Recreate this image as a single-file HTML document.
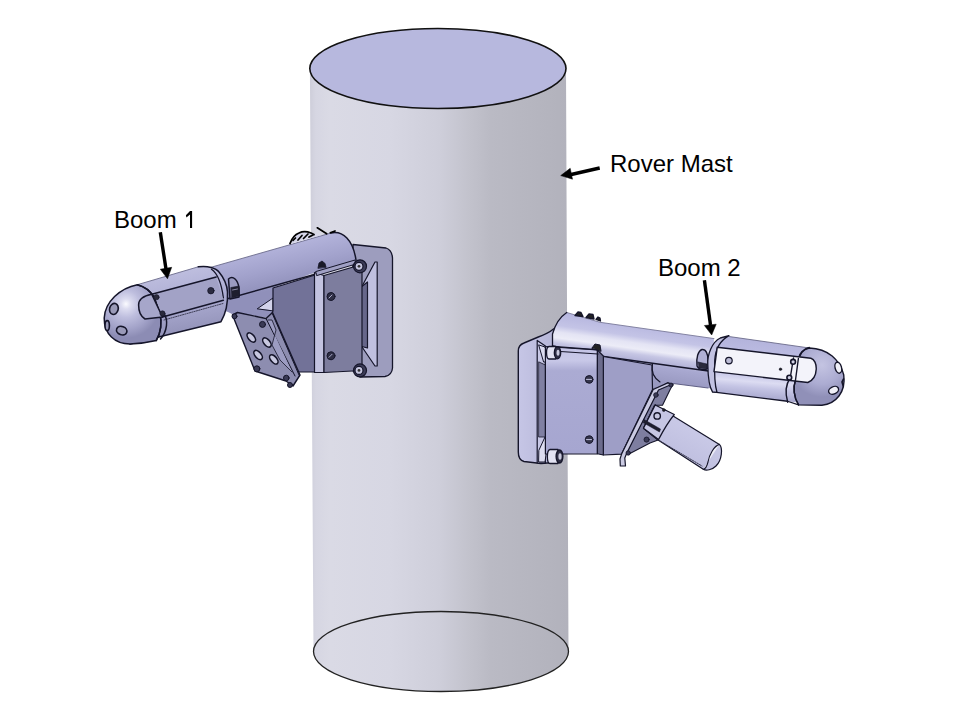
<!DOCTYPE html>
<html><head><meta charset="utf-8">
<style>
html,body{margin:0;padding:0;background:#fff;width:960px;height:720px;overflow:hidden}
svg{position:absolute;left:0;top:0}
.t{position:absolute;font-family:"Liberation Sans",sans-serif;font-size:24px;line-height:28px;color:#000;white-space:nowrap}
</style></head>
<body>
<svg width="960" height="720" viewBox="0 0 960 720">
<defs>
<linearGradient id="cyl" x1="310" y1="0" x2="568" y2="0" gradientUnits="userSpaceOnUse">
<stop offset="0" stop-color="rgb(206,206,218)"/>
<stop offset="0.023" stop-color="rgb(214,214,226)"/>
<stop offset="0.078" stop-color="rgb(218,218,229)"/>
<stop offset="0.31" stop-color="rgb(215,215,227)"/>
<stop offset="0.504" stop-color="rgb(206,206,218)"/>
<stop offset="0.62" stop-color="rgb(194,194,204)"/>
<stop offset="0.70" stop-color="rgb(186,186,196)"/>
<stop offset="1" stop-color="rgb(178,178,188)"/>
</linearGradient>

<radialGradient id="dome1" cx="126" cy="304" r="34" gradientUnits="userSpaceOnUse">
<stop offset="0" stop-color="#fbfbff"/><stop offset="0.15" stop-color="#dcdcf0"/><stop offset="0.4" stop-color="#bebede"/><stop offset="0.75" stop-color="#a2a2c8"/><stop offset="1" stop-color="#8c8cb4"/>
</radialGradient>
<linearGradient id="sleeve1" x1="170" y1="268" x2="182" y2="338" gradientUnits="userSpaceOnUse">
<stop offset="0" stop-color="#c0c0e0"/><stop offset="0.45" stop-color="#aeaed4"/><stop offset="1" stop-color="#9090b6"/>
</linearGradient>
<linearGradient id="tube1" x1="265" y1="250" x2="274" y2="290" gradientUnits="userSpaceOnUse">
<stop offset="0" stop-color="#b2b2da"/><stop offset="0.5" stop-color="#a2a2cc"/><stop offset="1" stop-color="#9090ba"/>
</linearGradient>

<linearGradient id="bp2" x1="518" y1="0" x2="560" y2="0" gradientUnits="userSpaceOnUse">
<stop offset="0" stop-color="#c6c6e6"/><stop offset="1" stop-color="#b4b4d6"/>
</linearGradient>
<linearGradient id="tube2" x1="640" y1="315.5" x2="631" y2="379.5" gradientUnits="userSpaceOnUse">
<stop offset="0" stop-color="#b2b2dc"/><stop offset="0.15" stop-color="#b8b8e0"/><stop offset="0.33" stop-color="#c4c4e6"/><stop offset="0.43" stop-color="#e4e4f4"/><stop offset="0.52" stop-color="#ececf7"/><stop offset="0.6" stop-color="#c6c6e4"/><stop offset="0.75" stop-color="#a8a8d0"/><stop offset="1" stop-color="#9898c0"/>
</linearGradient>
<linearGradient id="sleeve2" x1="765" y1="341" x2="760" y2="402" gradientUnits="userSpaceOnUse">
<stop offset="0" stop-color="#b4b4dc"/><stop offset="0.25" stop-color="#bcbce2"/><stop offset="0.55" stop-color="#c4c4e6"/><stop offset="0.68" stop-color="#dcdcf2"/><stop offset="0.78" stop-color="#c4c4e4"/><stop offset="1" stop-color="#a0a0c8"/>
</linearGradient>
<radialGradient id="dome2" cx="822" cy="365" r="32" gradientUnits="userSpaceOnUse">
<stop offset="0" stop-color="#c4c4e2"/><stop offset="0.6" stop-color="#acacd2"/><stop offset="1" stop-color="#9090b8"/>
</radialGradient>
<linearGradient id="scyl2" x1="0" y1="0" x2="-1" y2="1.5">
<stop offset="0" stop-color="#c8c8e6"/><stop offset="1" stop-color="#a0a0c8"/>
</linearGradient>
<linearGradient id="fp2" x1="0" y1="350" x2="0" y2="454" gradientUnits="userSpaceOnUse">
<stop offset="0" stop-color="#c4c4e6"/><stop offset="0.1" stop-color="#c8c8e8"/><stop offset="0.2" stop-color="#ababd3"/><stop offset="1" stop-color="#a6a6d0"/>
</linearGradient>
</defs>
<!-- mast body -->
<path d="M309.9,68.5 L566,68.5 L568.5,651.5 A127.5,40 0 0 1 313.5,651.5 Z" fill="url(#cyl)"/>
<ellipse cx="441" cy="651.5" rx="127.5" ry="40" fill="none" stroke="#222" stroke-width="1.3"/>
<ellipse cx="437.9" cy="68.5" rx="128.1" ry="40" fill="#b7b8de" stroke="#111" stroke-width="1.6"/>


<!-- ============ BOOM 1 ============ -->
<g stroke="#15152a" stroke-linejoin="round" stroke-linecap="round">
<!-- back plate -->
<path d="M353,244.5 L386,248 Q392,250 392.5,258 L392.5,368 Q392,375 385,376.5 L360,377 L352,370 Z" fill="#9d9dbe" stroke-width="1.3"/>
<path d="M360,290 L375,262 L377.2,262 L377.2,366 L375,366 L360,344 Z" fill="#c0c0e0" stroke-width="1.2"/>
<path d="M360,288 L367.5,282 L367.5,348 L360,346 Z" fill="#66668a" stroke-width="1.2"/>
<!-- tube -->
<path d="M205,269 L331,233 C343,230.5 353,240 356,260 L316,272 L273,288 L273,311 L268,318 L237.5,313 L232,314 L228,312 L210,306 Z" fill="url(#tube1)" stroke="none"/>
<path d="M205,269 L331,233" fill="none" stroke="#6a6a8a" stroke-width="0.9"/>
<path d="M331,233 C343,230.5 353,240 356,260" fill="none" stroke-width="1.5"/>
<!-- gear on top of tube -->
<path d="M290,244 C292,238 295,234.5 299,233 C302,231.5 306,231 311,233 L316,234 L322,235 Z" fill="#d6d6ea" stroke="none"/>
<path d="M290,243.5 C292,238 295,234.5 299,233 C302,231.5 306,231 311,233 L314,234.5" fill="none" stroke="#000" stroke-width="1.8"/>
<path d="M293,240.5 L295.5,238 M298,240 L302,235.5 M303.5,238.5 L308,234 M309,237 L313,235 M317.3,227.8 L326.7,233.8 M330.3,232.8 L335,231" fill="none" stroke="#000" stroke-width="1.7"/>
<!-- seam line -->
<path d="M205,305 L316,274" stroke-width="1.4" fill="none"/>
<!-- fillet -->
<path d="M257.5,308.6 L273,298 L273,310.5 Z" fill="#d2d2ea" stroke-width="1"/>
<!-- dark body -->
<path d="M273,288 L315,275 L315,372 L297,372 L270,318 L273,311 Z" fill="#727298" stroke-width="1.2"/>
<!-- lower plate -->
<path d="M232.5,315 L237.5,312.5 L266,318.5 L272.5,312.5 L300,375 L293,386 L286,381 L255,371 Z" fill="#8d8db0" stroke-width="1.4"/>
<path d="M266,318.5 L295,376 M272.5,314 L299,375" fill="none" stroke-width="1"/>
<path d="M268,320 L272,320 L276,330 L272,345 L280,360 L292,372" fill="#9c9cc2" stroke-width="0.8"/>
<g fill="#c8c8e0" stroke-width="1.6">
<ellipse cx="251.3" cy="337.5" rx="5.5" ry="3" transform="rotate(50 251.3 337.5)"/>
<ellipse cx="266.9" cy="342.5" rx="5.5" ry="3" transform="rotate(50 266.9 342.5)"/>
<ellipse cx="258.1" cy="355" rx="5.5" ry="3" transform="rotate(50 258.1 355)"/>
<ellipse cx="273.8" cy="359.4" rx="5.5" ry="3" transform="rotate(50 273.8 359.4)"/>
</g>
<g fill="#3a3a55" stroke-width="1">
<circle cx="262.5" cy="324.4" r="3"/><circle cx="256.9" cy="368.8" r="3"/><circle cx="286.3" cy="378" r="2.8"/><circle cx="290" cy="385" r="2.5"/><circle cx="234.5" cy="316.3" r="2.5"/>
</g>
<!-- front plate -->
<path d="M314.5,272.5 L324,275.5 L324,372.5 L314.5,372.5 Z" fill="#c3c3e0" stroke-width="1.2"/>
<path d="M324,275.5 L355,266.5 L362,268 L362,370.5 L324,372.5 Z" fill="#7d7d9e" stroke-width="1.2"/>
<path d="M316,271.5 L355,260 L356,264 L317,275.5 Z" fill="#a0a0c4" stroke-width="1"/>
<path d="M318,268 L319,263 L322,261 L325,263.5 L326,267 Z" fill="#1a1a28" stroke-width="0.8"/>
<g fill="#2e2e44" stroke-width="1"><circle cx="331" cy="296.5" r="4"/><circle cx="331" cy="355.8" r="4"/></g>
<g fill="none" stroke="#a8a8c8" stroke-width="1"><path d="M329,298 L332,295"/><path d="M329,357.3 L332,354.3"/></g>
<!-- bolts -->
<g stroke-width="1.2"><circle cx="360" cy="266.3" r="6.5" fill="#3c3c58"/><circle cx="359" cy="266.3" r="4" fill="#c6c6e0"/><circle cx="359" cy="266.3" r="1.4" fill="#333" stroke="none"/>
<circle cx="360" cy="370.4" r="6.5" fill="#3c3c58"/><circle cx="359" cy="370.4" r="4" fill="#c6c6e0"/><circle cx="359" cy="370.4" r="1.4" fill="#333" stroke="none"/></g>
<!-- sleeve -->
<path d="M137.4,284.7 L198.3,266.8 C208,265.5 216,268 219,272 C224,278 227,285 227.5,292 C228,302 226,313 221,321.7 L130,344 Z" fill="url(#sleeve1)" stroke="none"/>
<path d="M137.4,284.7 L198.3,266.8" fill="none" stroke="#6a6a8a" stroke-width="0.9"/>
<path d="M198.3,266.8 C208,265.5 216,268 219,272 C224,278 227,285 227.5,292 C228,302 226,313 221,321.7 L130,344" fill="none" stroke-width="1.5"/>
<path d="M211.5,269.2 C217,273 221,280 223.4,297.8" fill="none" stroke-width="1.3"/>
<!-- collar bump -->
<path d="M228.5,279 C233,275 238,280 239,288 L239,297 L230,299 Z" fill="#9a9ac0" stroke-width="1.5"/>
<path d="M231,287.5 L239,286 L239.5,296 L231.5,298 Z" fill="#1e1e2e" stroke-width="0.6"/><path d="M232.5,290 L237.5,289" stroke="#8a8aa8" stroke-width="1"/>
<!-- window -->
<path d="M151.7,294.3 L216.2,277 L223.4,300.2 L162.5,317 Z" fill="#a2a2c6" stroke="none"/>
<path d="M151.7,294.3 L216.2,277 M162.5,317 L223.4,300.2" fill="none" stroke-width="1.5"/>
<path d="M164,320 L223,303.5" stroke="#33334a" stroke-width="0.9" stroke-dasharray="1.2,1.2" fill="none"/>
<circle cx="210.9" cy="290.7" r="3.2" fill="#2b2b40" stroke-width="0.8"/>
<!-- dome -->
<path d="M137.4,284.7 C120,288 105,302 104.2,318 C104,334 115,344 130,344 C142,343.5 150,342 156.25,340.5 C161,333 162,322 160,314 L154,297 C151,292 146,287 137.4,284.7 Z" fill="url(#dome1)" stroke-width="1.5"/>
<path d="M137.4,284.7 C146,287 151,292 154,297 L160,314 C162,322 161,333 156.25,340.5" fill="none" stroke-width="1.5"/>
<path d="M164.5,314.5 C168,320 167.5,331 160.5,339" fill="none" stroke-width="1.5"/>
<path d="M151.7,294.3 C143,296 138.6,300 138.6,305 C138.6,312 140,316 145,319 L162.5,317 Z" fill="#a6a6ca" stroke-width="1.5"/>
<g fill="#2a2a3c" stroke-width="0.6"><circle cx="156.5" cy="297.2" r="2.6"/><circle cx="162.5" cy="313.4" r="2.6"/></g>
<g fill="#9a9ab8" stroke-width="1.6">
<ellipse cx="113.9" cy="308.9" rx="4.3" ry="5.6" transform="rotate(15 113.9 308.9)"/>
<ellipse cx="121.7" cy="330.6" rx="5.3" ry="4.2" transform="rotate(20 121.7 330.6)"/>
<ellipse cx="107.2" cy="325.6" rx="2.2" ry="5" />
</g>
</g>


<!-- ============ BOOM 2 ============ -->
<g stroke="#15152a" stroke-linejoin="round" stroke-linecap="round">
<!-- back plate -->
<path d="M524,343 L538.3,337 C545,334.5 550,332 553.5,329 L560,329 L560,462 L541,463.5 L524,461.5 Q518.3,460 518.3,452 L518.3,351 Q518.3,345 524,343 Z" fill="url(#bp2)" stroke-width="1.4"/>
<!-- tube -->
<path d="M566.7,312.5 L600,322.3 L714,338.6 L712,388.5 L708,388 L673,383.5 L652,389 L603,356 L552.5,346 L552.5,334 C555,325 560,317 566.7,312.5 Z" fill="url(#tube2)" stroke="none"/>
<path d="M566.7,312.5 L600,322.3 L714,338.6" fill="none" stroke="#7a7a9a" stroke-width="0.9"/>
<path d="M552.5,346 L552.5,334 C555,325 560,317 566.7,312.5" fill="none" stroke-width="1.3"/>
<path d="M652,389 L673,383.5 L708,388" fill="none" stroke="#55557a" stroke-width="0.9"/>
<path d="M575,315.5 L578,312 L581,312.5 L583,316.5 Z M586,317.5 L589,314 L593,314.5 L594,319 Z M596,319.5 L598,317 L600,318 L600.5,321 Z" fill="#222" stroke-width="1.3"/>
<path d="M552.5,346 L600,356 L708.3,371" fill="none" stroke-width="1.4"/>
<!-- body right -->
<path d="M603.3,356.5 L652,365 L652.5,389.5 L621.6,454.1 L603.3,455 Z" fill="#9e9ec6" stroke-width="1.2"/>
<path d="M652.5,364 C651,372 654,378 660,382" fill="none" stroke-width="1.1"/>
<!-- lower dark area + strut -->
<path d="M658.5,388.5 L667.7,382.9 L673,384.5 L670.4,389 L662.5,405.3 L654.5,405.3 L643.5,428.3 L658.1,440 L650,443 L628,454.5 L626.9,452.8 Z" fill="#7e7ea0" stroke-width="1.1"/>
<path d="M653.2,389.5 L667.7,382.9 L672,384.3 L658.5,390 L626.9,452.8 L624.8,458 L625.5,466 L620.3,466 L620,459 L621.6,454.1 Z" fill="#cacae2" stroke-width="1.2"/>
<g fill="#3a3a55" stroke-width="0.8"><circle cx="655.9" cy="395" r="2.3"/><circle cx="646.6" cy="439.6" r="2.6"/><circle cx="628.2" cy="453" r="2.2"/><circle cx="671" cy="385" r="2"/></g>
<!-- small cylinder -->
<path d="M655.2,405 L719.4,444.4 C723,448 722,460 716,466 C712,470 706,471 703.3,469.2 L658.1,440 L643.5,428.3 Z" fill="url(#scyl2)" stroke-width="1.2"/>
<path d="M655.2,405 L674.3,414.5 C669,421 663,431 658.5,439.6 L643.5,428.3 Z" fill="#c6c6e4" stroke-width="1.2"/>
<path d="M719.4,444.4 C714,446 709,455 708,462 C707,466 706,469 703.3,469.2" fill="#ececf6" stroke-width="1.1"/>
<path d="M660,441 L702,466" fill="none" stroke="#33334a" stroke-width="1" stroke-dasharray="1.5,1.2"/>
<path d="M644,419.5 L660.5,429 L659.5,432 L643,422.5 Z" fill="#1e1e2e" stroke-width="0.5"/>
<circle cx="657.2" cy="415.9" r="3.2" fill="#c6c6e0" stroke-width="1.4"/>
<circle cx="663.8" cy="410" r="1.5" fill="#222" stroke-width="0.5"/>
<!-- front strip -->
<path d="M537.2,340.4 L545.4,346 L545.4,463 L537.2,463 Z" fill="#c8c8e6" stroke-width="1.2"/>
<path d="M539,362 L545.4,365 L545.4,437 L539,437 Z" fill="#8080a2" stroke-width="0.8"/>
<path d="M539,345 L545,347 L550,362 L544,362 Z M539,450 L545,437 L548,440 L545,462 L539,462 Z" fill="#dcdcf0" stroke-width="1"/>
<!-- front plate -->
<path d="M545.4,346.5 L597.4,350 L597.4,453.8 L545.4,454 Z" fill="url(#fp2)" stroke-width="1.2"/>
<path d="M597.4,350 L603.3,356 L603.3,455 L597.4,453.8 Z" fill="#6c6c8c" stroke-width="1.1"/>
<path d="M552.5,346.3 L599.7,349.9 M553,351 L598,354" fill="none" stroke-width="1.2"/>
<path d="M592,348 L595,344 L600,345 L601,351 Z" fill="#222" stroke-width="1"/>
<g fill="#35354c" stroke-width="1"><circle cx="589.1" cy="379.4" r="3.8"/><circle cx="589.1" cy="439.6" r="3.8"/></g>
<g fill="none" stroke="#c0c0dc" stroke-width="1"><path d="M586.5,379.4 L591.5,379.4"/><path d="M586.5,439.6 L591.5,439.6"/></g>
<g stroke-width="1.3">
<path d="M549,346.5 L556,346.5 L556,359 L549,359 C546,359 545.5,347 549,346.5 Z" fill="#e2e2f2"/>
<ellipse cx="557.5" cy="352.8" rx="3.2" ry="6" fill="#2e2e44"/><ellipse cx="558" cy="352.8" rx="1.5" ry="3" fill="#c8c8dc" stroke="none"/>
<path d="M550,449.5 L558,449.5 L558,463.5 L550,463.5 C546.5,463.5 546.5,450 550,449.5 Z" fill="#e2e2f2"/>
<ellipse cx="559.5" cy="456.5" rx="3.4" ry="6.5" fill="#2e2e44"/><ellipse cx="560" cy="456.5" rx="1.6" ry="3.2" fill="#c8c8dc" stroke="none"/>
</g>
<path d="M697,366 C696,358 698,351 702,349.5 C706,349 708,354 708,360 L708,368 C705,371 699,370 697,366 Z" fill="#b0b0d4" stroke-width="1.4"/>
<path d="M698,362 L707,364 L707,369 L699,368 Z" fill="#2a2a3c" stroke-width="0.6"/>
<!-- sleeve -->
<path d="M728.9,336.5 L809.4,348 L821.9,405.2 L787.5,401.25 L712.5,391.9 C707,385 706,365 712,350 C716,342 722,336.5 728.9,336.5 Z" fill="url(#sleeve2)" stroke="none"/>
<path d="M728.9,336.5 L809.4,348" fill="none" stroke="#6a6a8a" stroke-width="0.9"/>
<path d="M712.5,391.9 L787.5,401.25 L798.6,404.9" fill="none" stroke-width="1.3"/>
<path d="M720.3,338 C712,342 707,355 707.8,365 C708,378 710,388 712.5,391.9 L717,392.4 C715,386 714.3,372 714.8,360 C715.5,349 721,340 728.9,335.6 Z" fill="#c2c2e2" stroke-width="1.3"/>
<!-- dome -->
<path d="M809.4,348 C828,348.5 840,360 843.75,375 C846,392 836,404 821.9,405.2 L798.6,404.9 C793.5,397 793,387 795.5,380 L798.4,358.5 C800,352 804,349 809.4,348 Z" fill="url(#dome2)" stroke-width="1.4"/>
<path d="M809.4,347.3 C803,349 799,355 798.4,362" fill="none" stroke-width="1.3"/>
<!-- window -->
<path d="M717.2,347.3 L810.9,358.3 C818,360 819,378 807.8,382.5 L714,371.6 Z" fill="#f3f3fa" stroke-width="1.4"/>
<path d="M793.5,358 L790.2,378 C786,384 785,393 787.7,402.2 M798.4,358.5 L795.5,380 C793,387 793.5,397 798.6,404.9" fill="none" stroke-width="1.4"/>
<g fill="#d0d0e4" stroke-width="1.6"><circle cx="793.1" cy="361.8" r="2.4"/><circle cx="789.3" cy="377.6" r="2.4"/></g>
<circle cx="728.9" cy="360.6" r="3.3" fill="#bcbcd6" stroke-width="1.2"/>
<circle cx="780.5" cy="369.2" r="1.3" fill="#222" stroke-width="0.5"/>
<path d="M843.6,379 L842,382 L843.2,386" fill="none" stroke-width="1.6"/>
<g fill="#f0f0f8" stroke-width="1.4">
<ellipse cx="838.3" cy="367.7" rx="3.2" ry="5.6" transform="rotate(-15 838.3 367.7)"/>
<ellipse cx="833.6" cy="390.3" rx="5.2" ry="3.6" transform="rotate(-25 833.6 390.3)"/>
</g>
</g>

<path d="M190,211 L192.1,211 L192.1,228 L190,228 L190,214.6 L186.4,217.5 L185.9,215.3 Z" fill="#000"/>
<!-- arrows -->
<g fill="#000" stroke="#000">
<line x1="599.7" y1="168" x2="569" y2="175" stroke-width="3.4"/>
<polygon points="560.7,175.6 570.2,168.3 572.5,179.2" stroke-width="0.5"/>
<line x1="160.3" y1="232.3" x2="166" y2="269" stroke-width="3.4"/>
<polygon points="167.5,278.8 160.3,269.2 171.7,267.3" stroke-width="0.5"/>
<line x1="704.4" y1="280.2" x2="710.5" y2="325" stroke-width="3.4"/>
<polygon points="711.7,335 704.4,325.5 716.2,324.2" stroke-width="0.5"/>
</g>
</svg>
<div class="t" style="left:610px;top:150px">Rover Mast</div>
<div class="t" style="left:114px;top:206px">Boom</div>
<div class="t" style="left:658px;top:254px">Boom 2</div>
</body></html>
